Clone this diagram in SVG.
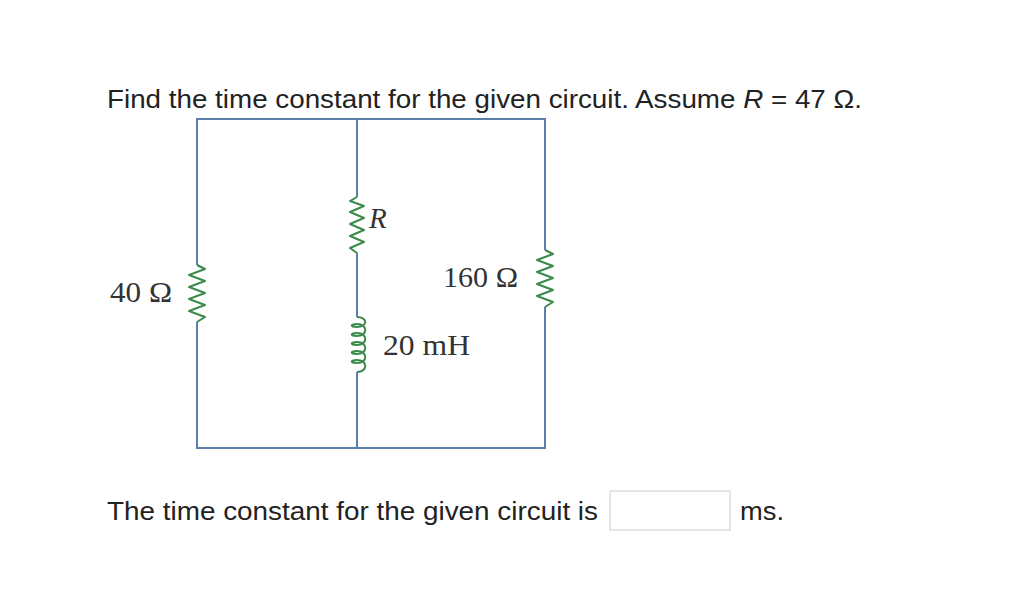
<svg xmlns="http://www.w3.org/2000/svg" width="1020" height="592" viewBox="0 0 1020 592">
<style>
.w{fill:none;stroke:#5a7fa8;stroke-width:2}
.r{fill:none;stroke:#3a8a4a;stroke-width:2;stroke-linejoin:round}
.t{font-family:"Liberation Sans",Arial,sans-serif;font-size:26px;fill:#222}
.c{font-family:"Liberation Serif","Times New Roman",serif;font-size:29px;fill:#333}
</style>
<rect width="1020" height="592" fill="#fff"/>
<text class="t" x="107" y="108" textLength="755" lengthAdjust="spacingAndGlyphs">Find the time constant for the given circuit. Assume <tspan font-style="italic">R</tspan> = 47 Ω.</text>
<g id="connectors">
<path class="w" d="M197,265 V119 H545 V250 M545,307 V448 H197 V322 M357,119 V197 M357,253 V317 M357,372 V448"/>
</g>
<g id="r40">
<path class="r" d="M197,265 L205,269 L189,275 L205,281 L189,287 L205,293 L189,299 L205,305 L189,311 L205,317 L197,322"/>
<text class="c" x="110" y="302" textLength="62" lengthAdjust="spacingAndGlyphs">40 Ω</text>
</g>
<g id="rR">
<path class="r" d="M357,197 L350,201 L364,206 L350,212 L364,218 L350,224 L364,230 L350,236 L364,242 L350,248 L357,253"/>
<text class="c" x="369" y="228" font-style="italic" fill="#223">R</text>
</g>
<g id="r160">
<path class="r" d="M545,250 L553,254 L537,260 L553,266 L537,272 L553,278 L537,284 L553,290 L537,296 L553,302 L545,307"/>
<text class="c" x="443" y="287" textLength="75" lengthAdjust="spacingAndGlyphs">160 Ω</text>
</g>
<g id="ind">
<path class="r" d="M357,317 C368,317 368,327 357,327 C350,327 350,324 357,324 C368,324 368,336 357,336 C350,336 350,333 357,333 C368,333 368,345 357,345 C350,345 350,342 357,342 C368,342 368,354 357,354 C350,354 350,351 357,351 C368,351 368,363 357,363 C350,363 350,360 357,360 C368,360 368,372 357,372"/>
<text class="c" x="383" y="355" textLength="87" lengthAdjust="spacingAndGlyphs">20 mH</text>
</g>
<text class="t" x="107" y="520" textLength="491" lengthAdjust="spacingAndGlyphs">The time constant for the given circuit is</text>
<rect x="610" y="491" width="120" height="39" fill="#fff" stroke="#ccc" stroke-width="1"/>
<text class="t" x="740" y="520" textLength="44" lengthAdjust="spacingAndGlyphs">ms.</text>
</svg>
